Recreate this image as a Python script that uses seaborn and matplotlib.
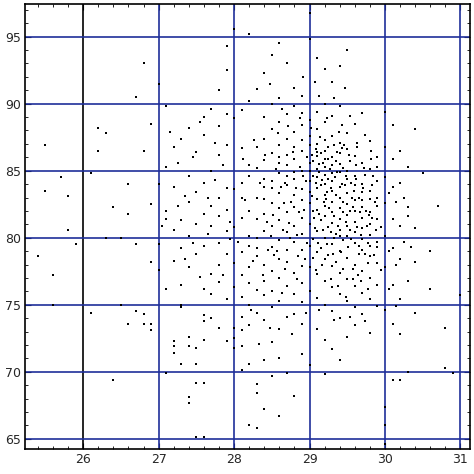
import matplotlib
matplotlib.use("Agg")
import matplotlib.pyplot as plt
import seaborn as sns
from matplotlib.ticker import MultipleLocator

# (x, y) points
points_text = """
25.4,78.6 25.5,86.9 25.6,75.0 25.5,83.5 25.7,84.5 25.8,80.6 25.9,79.5 25.6,77.2 25.8,83.1 26.1,74.4 26.2,88.2 26.3,87.8 26.1,84.8 26.3,80.0 26.4,69.4 26.5,75.0 26.4,82.3 26.2,86.5 26.6,73.6 26.5,80.0 26.6,84.0 26.7,74.5 26.8,74.3 26.8,73.6 26.9,73.6 26.9,73.1 26.7,79.5 26.6,81.8 26.8,86.5 26.9,88.5 26.7,90.5 26.8,93.0 26.9,82.5 26.9,78.2
27.0,91.5 27.1,89.8 27.0,84.0 27.1,82.0 27.0,79.5 27.0,77.6 27.1,76.2 27.1,69.9 27.2,72.3 27.2,71.9 27.2,71.4 27.3,70.6 27.3,74.8 27.3,75.0 27.4,72.6 27.4,71.9 27.5,71.8 27.4,68.1 27.4,67.7 27.5,65.1 27.6,65.1 27.5,69.2 27.6,69.2 27.5,70.6 27.6,72.4 27.6,73.8 27.6,74.2 27.7,74.0 27.8,73.3 27.9,72.3 27.3,76.5 27.4,77.8 27.5,78.8 27.6,79.4 27.2,80.6 27.3,81.3 27.4,82.7 27.5,83.4 27.6,84.1 27.7,85.0 27.8,86.2 27.2,86.8 27.3,87.4 27.4,88.2 27.6,89.0 27.7,89.6 27.8,91.0 27.9,92.5 27.1,85.3 27.2,83.8 27.3,79.2 27.4,80.1 27.5,81.0 27.6,81.8 27.7,82.4 27.8,83.0 27.9,83.7 27.7,77.3 27.8,78.0 27.9,78.8 27.8,79.6 27.9,80.5 27.7,80.9 27.8,81.6 27.9,82.1 27.6,76.2 27.7,75.8 27.8,76.7 27.9,75.4 27.5,86.4 27.6,87.7 27.8,88.3 27.9,86.9 27.4,84.6 27.2,78.3 27.1,81.4 27.9,89.2 27.9,94.3
27.15,87.9 27.25,85.6 27.35,83.1 27.45,79.6 27.55,77.1 27.65,80.3 27.75,84.3 27.85,85.4 27.95,81.2 27.05,80.9 27.35,78.4 27.65,83.0 27.85,77.2 27.95,79.9 27.45,86.0 27.55,88.6 27.75,87.1 27.25,82.4
28.0,71.8 28.0,72.5 28.1,71.9 28.0,73.3 28.1,73.1 28.1,74.1 28.2,75.0 28.2,73.5 28.3,74.4 28.2,70.6 28.1,70.1 28.3,69.1 28.3,68.4 28.4,67.2 28.2,66.0 28.3,65.8 28.4,70.9 28.4,73.9 28.5,72.2 28.6,71.0 28.5,69.7 28.6,66.7 28.7,69.9 28.8,68.2 28.9,71.3 28.9,73.6 28.7,74.1 28.6,75.3 28.5,74.8 28.4,75.7 28.3,76.1 28.2,76.6 28.1,77.2 28.0,78.1 28.1,78.9 28.2,79.4 28.3,80.0 28.4,80.5 28.5,80.9 28.6,81.3 28.7,81.9 28.8,82.3 28.9,82.8 28.0,83.6 28.1,84.1 28.2,84.6 28.3,85.2 28.4,85.8 28.5,86.3 28.6,86.9 28.7,87.4 28.8,87.9 28.9,88.4 28.0,88.9 28.1,89.5 28.2,90.2 28.3,91.1 28.4,92.3 28.5,93.6 28.6,94.5 28.2,95.2 28.0,95.6 28.7,93.0 28.8,91.2 28.9,90.6 28.1,86.7 28.2,82.0 28.3,83.0 28.4,83.8 28.5,84.2 28.6,84.8 28.7,85.4 28.8,85.9 28.9,86.5 28.0,80.8 28.1,81.5 28.2,80.1 28.3,78.6 28.4,78.0 28.5,77.5 28.6,77.0 28.7,76.4 28.8,75.8 28.9,75.2 28.0,76.3 28.1,75.6 28.2,77.8 28.3,79.2 28.4,81.8 28.5,82.6 28.6,83.3 28.7,83.9 28.8,84.4 28.9,85.0 28.4,87.4 28.5,88.1 28.6,88.6 28.7,89.2 28.8,89.8 28.9,89.3 28.3,86.8 28.4,89.0 28.5,90.0 28.6,90.4 28.7,79.1 28.8,79.7 28.9,80.3 28.8,80.9 28.7,80.4 28.6,79.8 28.5,79.3 28.4,76.8 28.6,78.4 28.8,77.4 28.9,77.9 28.9,79.1 28.7,78.2 28.5,83.7 28.6,85.6 28.8,83.2 28.9,83.6 28.7,86.2 28.8,86.8 28.9,87.3 28.6,82.2 28.4,82.9 28.3,81.4 28.2,85.4 28.1,83.0 28.5,76.0 28.9,76.6 28.8,74.3 28.6,73.2 28.9,81.5 28.7,84.6 28.4,84.4
28.05,79.7 28.15,82.8 28.25,78.3 28.35,84.1 28.45,79.1 28.55,85.1 28.65,80.6 28.75,82.7 28.85,78.6 28.95,84.2 28.12,85.9 28.27,87.3 28.43,81.2 28.58,87.8 28.73,81.1 28.88,85.3 28.97,79.6 28.62,83.8 28.78,86.4 28.93,82.1 28.52,81.7 28.68,77.7 28.83,80.2 28.38,77.2 28.22,74.6 28.47,73.3 28.77,72.8 28.33,72.1 28.57,79.0 28.72,88.3 28.87,88.9 28.63,89.6 28.47,91.5 28.92,92.0 28.82,83.7 28.67,84.1 28.53,78.7 28.97,86.0 28.41,86.2 28.59,86.0 28.74,80.0 28.86,81.9 28.94,78.4 28.66,82.6 28.79,84.9 28.91,84.6 28.49,80.1 28.64,75.9 28.84,76.9 28.95,74.4
29.0,96.8 29.0,94.8 29.1,93.4 29.2,92.6 29.3,91.6 29.4,92.8 29.5,94.0 29.4,89.8 29.3,89.1 29.2,88.6 29.1,88.1 29.0,87.6 29.1,87.0 29.2,86.5 29.3,86.0 29.4,85.5 29.5,85.0 29.6,84.6 29.7,84.0 29.8,83.5 29.9,83.0 29.0,85.6 29.1,85.1 29.2,84.7 29.3,84.2 29.4,83.8 29.5,83.3 29.6,82.8 29.7,82.3 29.8,81.9 29.9,81.4 29.0,84.2 29.1,83.7 29.2,83.2 29.3,82.7 29.4,82.2 29.5,81.7 29.6,81.2 29.7,80.7 29.8,80.2 29.9,79.7 29.0,82.6 29.1,82.1 29.2,81.6 29.3,81.1 29.4,80.6 29.5,80.1 29.6,79.6 29.7,79.1 29.8,78.6 29.9,78.1 29.0,81.0 29.1,80.5 29.2,80.0 29.3,79.5 29.4,79.0 29.5,78.5 29.6,78.0 29.7,77.5 29.8,77.0 29.9,76.5 29.0,79.4 29.1,78.9 29.2,78.4 29.3,77.9 29.4,77.4 29.5,76.9 29.6,76.4 29.7,75.9 29.8,75.4 29.9,74.9 29.0,77.8 29.1,77.3 29.2,76.8 29.3,76.3 29.4,75.8 29.5,75.3 29.6,74.8 29.7,74.3 29.0,76.0 29.1,75.5 29.2,75.0 29.3,74.5 29.4,74.0 29.1,73.2 29.2,72.4 29.3,71.7 29.0,70.5 29.2,69.8 29.4,70.9 29.5,72.6 29.6,73.5 29.8,72.9 29.0,86.9 29.1,86.4 29.2,85.9 29.3,85.4 29.4,84.9 29.5,84.4 29.6,83.9 29.7,83.4 29.8,82.9 29.9,82.4 29.0,88.8 29.1,89.4 29.2,90.0 29.3,87.6 29.4,87.1 29.5,86.6 29.6,86.1 29.7,85.6 29.8,85.1 29.5,87.8 29.6,88.5 29.7,89.3 29.8,87.2 29.9,86.0 29.0,83.4 29.1,82.9 29.2,82.4 29.3,81.9 29.4,81.4 29.5,80.9 29.6,80.4 29.7,79.9 29.8,79.4 29.0,85.0 29.1,84.5 29.2,84.0 29.3,83.5 29.4,83.0 29.5,82.5 29.6,82.0 29.7,81.5 29.8,81.0 29.1,86.1 29.2,85.3 29.3,84.8 29.4,86.3 29.05,84.6 29.15,83.9 29.25,84.4 29.35,83.2 29.45,82.7 29.05,82.0 29.15,81.3 29.25,80.8 29.35,80.3 29.45,79.8 29.05,79.9 29.15,79.2 29.25,78.7 29.35,78.2 29.45,77.7 29.05,85.7 29.15,86.3 29.25,86.8 29.35,85.7 29.45,85.2 29.55,84.1 29.65,83.0 29.75,82.0 29.55,79.9 29.65,78.8 29.9,85.3 29.95,80.8 29.95,77.6 29.9,84.2
29.03,83.1 29.08,86.6 29.13,81.8 29.18,85.6 29.23,79.5 29.28,83.7 29.33,86.9 29.38,80.9 29.43,84.0 29.48,81.2 29.53,85.7 29.58,82.3 29.63,86.8 29.68,80.2 29.73,84.7 29.78,78.1 29.83,83.9 29.88,80.6 29.02,88.2 29.07,80.7 29.12,84.9 29.17,78.0 29.22,82.9 29.27,85.1 29.32,81.6 29.37,86.4 29.42,78.9 29.47,83.9 29.52,86.2 29.57,77.7 29.62,84.4 29.67,81.9 29.72,85.2 29.77,79.6 29.82,86.5 29.87,82.7 29.04,78.5 29.09,84.1 29.14,87.5 29.19,82.7 29.24,85.9 29.29,80.4 29.34,84.5 29.39,87.9 29.44,81.9 29.49,84.6 29.54,80.6 29.59,83.5 29.64,77.2 29.69,82.8 29.74,87.7 29.79,81.7 29.84,84.6 29.89,79.3 29.06,81.5 29.11,79.6 29.16,84.3 29.21,87.3 29.26,82.2 29.31,78.8 29.36,84.9 29.41,80.1 29.46,86.9 29.51,79.3 29.56,83.0 29.61,85.4 29.66,79.4 29.71,83.7 29.76,80.9 29.81,85.9 29.86,78.7 29.03,86.2 29.13,85.5 29.23,83.4 29.33,80.0 29.43,86.7 29.53,82.0 29.63,80.8 29.73,78.8 29.83,81.5 29.08,77.6 29.18,80.6 29.28,76.9 29.38,76.4 29.48,75.6 29.58,76.9 29.68,76.8 29.78,76.2 29.13,74.6 29.33,73.9 29.53,74.1 29.73,73.8 29.23,88.9 29.43,88.4 29.63,87.1 29.13,90.6 29.33,90.4 29.53,89.1 29.07,91.6 29.47,91.2
30.0,84.5 30.1,83.8 30.0,82.6 30.1,81.4 30.2,80.9 30.0,80.1 30.1,79.2 30.2,78.4 30.0,77.8 30.1,76.5 30.2,75.4 30.0,74.6 30.1,73.6 30.2,72.8 30.3,70.0 30.0,67.4 30.0,66.0 30.0,64.6 30.1,69.4 30.2,69.4 30.3,76.8 30.4,78.2 30.4,80.7 30.3,82.3 30.2,84.1 30.3,85.3 30.2,86.5 30.1,85.9 30.0,86.8 30.4,88.1 30.6,79.0 30.5,84.8 30.6,76.2 30.7,82.4 30.8,73.3 30.9,69.9 30.8,70.3 31.0,75.7 30.3,81.6 30.4,74.4 30.1,88.4 30.0,89.4
30.05,83.3 30.15,82.7 30.05,79.0 30.15,78.0 30.25,79.7 30.05,76.2 30.15,74.9 30.25,83.0 30.35,79.3
"""
pairs = [p.split(",") for p in points_text.split()]
x_vals = [float(a) for a, b in pairs]
y_vals = [float(b) for a, b in pairs]

x_ticks = [26, 27, 28, 29, 30, 31]
y_ticks = [65, 70, 75, 80, 85, 90, 95]

sns.set_style("white")
fig, ax = plt.subplots(figsize=(4.74, 4.74), dpi=100)
fig.subplots_adjust(left=0.053, right=0.992, bottom=0.053, top=0.992)

ax.set_xlim(25.23, 31.13)
ax.set_ylim(64.25, 97.45)
for t in x_ticks:
    ax.axvline(t, color="#1f2f9a" if t != 26 else "black", lw=1.2, zorder=1)
for t in y_ticks:
    ax.axhline(t, color="#1f2f9a", lw=1.2, zorder=1)

sns.scatterplot(x=x_vals, y=y_vals, ax=ax, color="black", marker="s", s=3.5,
                linewidth=0, zorder=3)

ax.set_xticks(x_ticks)
ax.set_yticks(y_ticks)
ax.set_xticklabels([str(t) for t in x_ticks])
ax.set_yticklabels([str(t) for t in y_ticks])
ax.xaxis.set_minor_locator(MultipleLocator(0.2))
ax.yaxis.set_minor_locator(MultipleLocator(1))
ax.tick_params(which="both", direction="in", top=True, right=True,
               bottom=True, left=True, labelsize=9, color="black")
ax.tick_params(which="major", length=4, pad=3)
ax.tick_params(which="minor", length=2)
for s in ax.spines.values():
    s.set_color("black")
    s.set_linewidth(1.2)
ax.set_xlabel("")
ax.set_ylabel("")
fig.savefig("out.png", dpi=100)
